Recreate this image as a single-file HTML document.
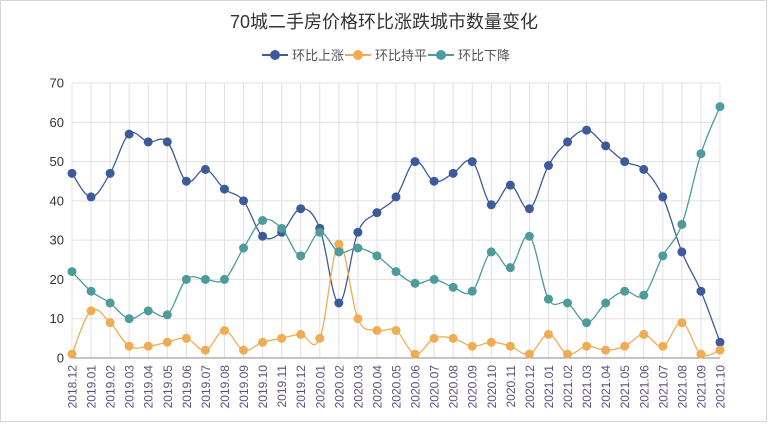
<!DOCTYPE html>
<html><head><meta charset="utf-8">
<style>
html,body{margin:0;padding:0;background:#fff;}
body{width:768px;height:432px;overflow:hidden;font-family:"Liberation Sans","Noto Sans CJK SC",sans-serif;}
</style></head>
<body>
<svg id="chart" width="768" height="432" xmlns="http://www.w3.org/2000/svg"></svg>
<script>
const categories=["2018.12","2019.01","2019.02","2019.03","2019.04","2019.05","2019.06","2019.07","2019.08","2019.09","2019.10","2019.11","2019.12","2020.01","2020.02","2020.03","2020.04","2020.05","2020.06","2020.07","2020.08","2020.09","2020.10","2020.11","2020.12","2021.01","2021.02","2021.03","2021.04","2021.05","2021.06","2021.07","2021.08","2021.09","2021.10"];
const upValues=[47,41,47,57,55,55,45,48,43,40,31,32,38,33,14,32,37,41,50,45,47,50,39,44,38,49,55,58,54,50,48,41,27,17,4];
const flatValues=[1,12,9,3,3,4,5,2,7,2,4,5,6,5,29,10,7,7,1,5,5,3,4,3,1,6,1,3,2,3,6,3,9,1,2];
const downValues=[22,17,14,10,12,11,20,20,20,28,35,33,26,32,27,28,26,22,19,20,18,17,27,23,31,15,14,9,14,17,16,26,34,52,64];
const yTicks=[0,10,20,30,40,50,60,70];
const seriesNames=["环比上涨","环比持平","环比下降"];

const NS="http://www.w3.org/2000/svg";
const svg=document.getElementById('chart');
const L=72,R=720,T=83,B=358;
const xs=i=>L+i*(R-L)/(categories.length-1);
const ys=v=>B-v*(B-T)/70;
function mk(tag,attrs,parent){const e=document.createElementNS(NS,tag);for(const k in attrs)e.setAttribute(k,attrs[k]);(parent||svg).appendChild(e);return e;}

const frame=mk('rect',{x:0.5,y:0.5,width:766,height:421,fill:'none',stroke:'#d4d4d4','stroke-width':1});



const title=mk('text',{x:384,y:28,'text-anchor':'middle','font-size':18,fill:'#333'});
title.textContent='70城二手房价格环比涨跌城市数量变化';



const grid=mk('g',{});


yTicks.forEach(t=>{
  mk('line',{x1:L,x2:R,y1:ys(t),y2:ys(t),stroke:'#e0e0e0','stroke-width':1},grid);
  const lb=mk('text',{x:L-8,y:ys(t)+4.5,'text-anchor':'end','font-size':13,fill:'#333'});
  lb.textContent=t;
  
  
});
categories.forEach((c,i)=>{
  mk('line',{x1:xs(i),x2:xs(i),y1:T,y2:B,stroke:'#e0e0e0','stroke-width':1},grid);
  const lb=mk('text',{x:0,y:0,'text-anchor':'end','font-size':12,fill:'#5e4f7e',transform:`translate(${xs(i)+4.5},${B+7}) rotate(-90)`});
  lb.textContent=c;
  
  
});
mk('line',{x1:L,x2:R,y1:B,y2:B,stroke:'#888','stroke-width':1});

function smoothPath(vals){
  const p=vals.map((v,i)=>[xs(i),ys(v)]);
  let d=`M${p[0][0]},${p[0][1]}`;
  const k=0.18;
  for(let i=0;i<p.length-1;i++){
    const p0=p[i-1]||p[i],p1=p[i],p2=p[i+1],p3=p[i+2]||p[i+1];
    const c1=[p1[0]+(p2[0]-p0[0])*k,p1[1]+(p2[1]-p0[1])*k];
    const c2=[p2[0]-(p3[0]-p1[0])*k,p2[1]-(p3[1]-p1[1])*k];
    d+=`C${c1[0]},${c1[1]} ${c2[0]},${c2[1]} ${p2[0]},${p2[1]}`;
  }
  return d;
}
const colors=["#3e5b99","#efac55","#4f9a9a"];
const keys=["up","flat","down"];
[upValues,flatValues,downValues].forEach((vals,si)=>{
  const g=mk('g',{});
  
  
  mk('path',{d:smoothPath(vals),fill:'none',stroke:colors[si],'stroke-width':1.3},g);
  vals.forEach((v,i)=>{
    const c=mk('circle',{cx:xs(i),cy:ys(v),r:4.5,fill:colors[si]},g);
    
    
  });
});

const legX=[262,345,428];
seriesNames.forEach((n,si)=>{
  const g=mk('g',{});
  
  
  mk('line',{x1:legX[si],x2:legX[si]+26,y1:55,y2:55,stroke:colors[si],'stroke-width':2},g);
  mk('circle',{cx:legX[si]+13,cy:55,r:5,fill:colors[si]},g);
  const t=mk('text',{x:legX[si]+30,y:60,'font-size':13,fill:'#555'},g);
  t.textContent=n;
});
</script>
</body></html>
